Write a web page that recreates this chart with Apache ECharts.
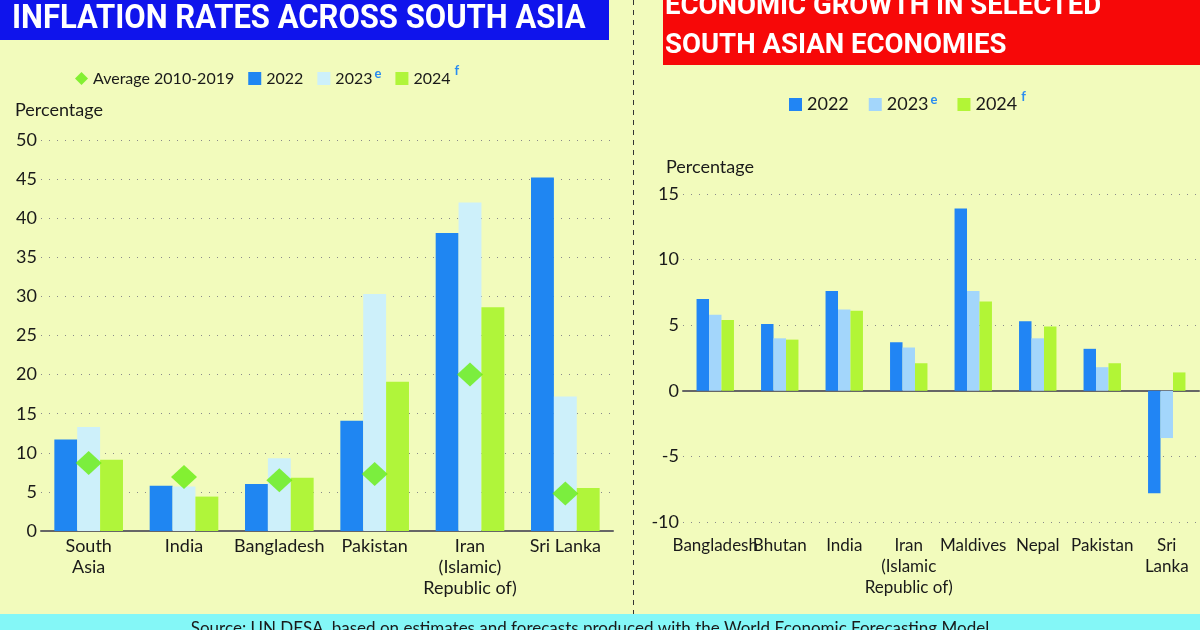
<!DOCTYPE html>
<html>
<head>
<meta charset="utf-8">
<title>Inflation and growth in South Asia</title>
<script src="https://cdn.jsdelivr.net/npm/echarts@6/dist/echarts.min.js"></script>
<style>
  html, body { margin: 0; padding: 0; background: #f2fbbc; }
  #chart { width: 1200px; height: 630px; }
</style>
</head>
<body>
<div id="chart"></div>
<script>
// inflation chart (left)
let inflationCountries = ['South\nAsia', 'India', 'Bangladesh', 'Pakistan', 'Iran\n(Islamic)\nRepublic of)', 'Sri Lanka']
let inflationAvg = [8.7, 6.9, 6.5, 7.3, 20.0, 4.8]
let inflation2022 = [11.7, 5.8, 6.0, 14.1, 38.1, 45.2]
let inflation2023 = [13.3, 5.7, 9.3, 30.3, 42.0, 17.2]
let inflation2024 = [9.1, 4.4, 6.8, 19.1, 28.6, 5.5]
let inflationTicks = [0, 50, 5]

// growth chart (right)
let growthCountries = ['Bangladesh', 'Bhutan', 'India', 'Iran\n(Islamic\nRepublic of)', 'Maldives', 'Nepal', 'Pakistan', 'Sri\nLanka']
let growth2022 = [7.0, 5.1, 7.6, 3.7, 13.9, 5.3, 3.2, -7.8]
let growth2023 = [5.8, 4.0, 6.2, 3.3, 7.6, 4.0, 1.8, -3.6]
let growth2024 = [5.4, 3.9, 6.1, 2.1, 6.8, 4.9, 2.1, 1.4]
let growthTicks = [-10, 15, 5]

let font = 'Lato'
let textColor = '#1a1a1a'

function legendLabel (name) {
  let n = name.trim()
  if (n === '2023') return '2023{e|e}'
  if (n === '2024') return '2024{f|f}'
  return n
}
let legendRich = {
  e: { color: '#2a8cf0', fontSize: 13, fontWeight: 'bold', fontFamily: font, padding: [0, 0, 10, 2] },
  f: { color: '#2a8cf0', fontSize: 13, fontWeight: 'bold', fontFamily: font, padding: [0, 0, 16, 4] }
}

function valueAxis (gridIndex, ticks) {
  return {
    type: 'value',
    gridIndex: gridIndex,
    min: ticks[0],
    max: ticks[1],
    interval: ticks[2],
    axisLine: { show: false },
    axisTick: { show: false },
    axisLabel: { color: textColor, fontSize: 18, fontFamily: font, margin: 4 },
    splitLine: { lineStyle: { color: '#8a8a8a', type: [1, 7], width: 1 } }
  }
}

function categoryAxis (gridIndex, data, margin, size) {
  return {
    type: 'category',
    gridIndex: gridIndex,
    data: data,
    axisTick: { show: false },
    axisLine: { onZero: true, lineStyle: { color: '#666', width: 2 } },
    axisLabel: { interval: 0, color: textColor, fontSize: size, fontFamily: font, lineHeight: 21, margin: margin }
  }
}

let myChart = echarts.init(document.getElementById('chart'))
let option = {
  backgroundColor: '#f2fbbc',
  animation: false,
  grid: [
    { left: 41, top: 140, width: 572, height: 391 },
    { left: 683, top: 194, width: 516, height: 328 }
  ],
  xAxis: [
    categoryAxis(0, inflationCountries, 5, 18),
    categoryAxis(1, growthCountries, 13, 17)
  ],
  yAxis: [
    valueAxis(0, inflationTicks),
    valueAxis(1, growthTicks)
  ],
  legend: [{
    left: 70,
    top: 59,
    itemWidth: 13,
    itemHeight: 13,
    itemGap: 14,
    data: [
      { name: 'Average 2010-2019', icon: 'diamond', itemStyle: { color: '#66ee0f' } },
      { name: '2022', icon: 'rect' },
      { name: '2023', icon: 'rect' },
      { name: '2024', icon: 'rect' }
    ],
    formatter: legendLabel,
    textStyle: { color: textColor, fontSize: 16, fontFamily: font, rich: legendRich }
  }, {
    left: 784,
    top: 85,
    itemWidth: 13,
    itemHeight: 13,
    itemGap: 20,
    data: [
      { name: '2022 ', icon: 'rect' },
      { name: '2023 ', icon: 'rect' },
      { name: '2024 ', icon: 'rect' }
    ],
    formatter: legendLabel,
    textStyle: { color: textColor, fontSize: 18, fontFamily: font, rich: legendRich }
  }],
  series: [{
    name: '2022',
    type: 'bar',
    xAxisIndex: 0,
    yAxisIndex: 0,
    data: inflation2022,
    barGap: '0%',
    barCategoryGap: '28%',
    itemStyle: { color: '#1f86f2' }
  }, {
    name: '2023',
    type: 'bar',
    xAxisIndex: 0,
    yAxisIndex: 0,
    data: inflation2023,
    itemStyle: { color: '#cdf0fa' }
  }, {
    name: '2024',
    type: 'bar',
    xAxisIndex: 0,
    yAxisIndex: 0,
    data: inflation2024,
    itemStyle: { color: '#b0f53a' }
  }, {
    name: 'Average 2010-2019',
    type: 'scatter',
    xAxisIndex: 0,
    yAxisIndex: 0,
    symbol: 'diamond',
    symbolSize: [26, 24],
    z: 5,
    data: inflationAvg,
    itemStyle: { color: '#66ee0f' }
  }, {
    name: '2022 ',
    type: 'bar',
    xAxisIndex: 1,
    yAxisIndex: 1,
    data: growth2022,
    barGap: '0%',
    barCategoryGap: '42%',
    itemStyle: { color: '#2185f4' }
  }, {
    name: '2023 ',
    type: 'bar',
    xAxisIndex: 1,
    yAxisIndex: 1,
    data: growth2023,
    itemStyle: { color: '#a3d6fb' }
  }, {
    name: '2024 ',
    type: 'bar',
    xAxisIndex: 1,
    yAxisIndex: 1,
    data: growth2024,
    itemStyle: { color: '#b2f536' }
  }],
  graphic: [
    // title boxes
    { type: 'rect', left: 0, top: 0, shape: { width: 609, height: 40 }, style: { fill: '#0f14ec' } },
    {
      type: 'text', x: 12, y: 20, scaleX: 0.94,
      style: { text: 'INFLATION RATES ACROSS SOUTH ASIA', fill: '#fff', font: 'bold 33px Roboto', verticalAlign: 'middle' }
    },
    { type: 'rect', left: 663, top: 0, shape: { width: 537, height: 65 }, style: { fill: '#f70808' } },
    {
      type: 'text', x: 665, y: 21, scaleX: 1.02,
      style: { text: 'ECONOMIC GROWTH IN SELECTED', fill: '#fff', font: 'bold 27px Roboto', verticalAlign: 'bottom' }
    },
    {
      type: 'text', x: 665, y: 60, scaleX: 1.02,
      style: { text: 'SOUTH ASIAN ECONOMIES', fill: '#fff', font: 'bold 27px Roboto', verticalAlign: 'bottom' }
    },
    // divider
    { type: 'line', shape: { x1: 633.5, y1: 0, x2: 633.5, y2: 614 }, style: { stroke: '#333', lineWidth: 1, lineDash: [5, 5] } },
    // axis names
    { type: 'text', x: 15, y: 110, style: { text: 'Percentage', fill: textColor, font: '18px Lato', verticalAlign: 'middle' } },
    { type: 'text', x: 666, y: 167, style: { text: 'Percentage', fill: textColor, font: '18px Lato', verticalAlign: 'middle' } },
    // source band
    { type: 'rect', left: 0, top: 614, shape: { width: 1200, height: 16 }, style: { fill: '#84f7f7' } },
    {
      type: 'text', x: 590, y: 620,
      style: { text: 'Source: UN DESA, based on estimates and forecasts produced with the World Economic Forecasting Model', fill: textColor, font: '17px Lato', align: 'center', verticalAlign: 'top' }
    }
  ]
}
myChart.setOption(option)
</script>
</body>
</html>
